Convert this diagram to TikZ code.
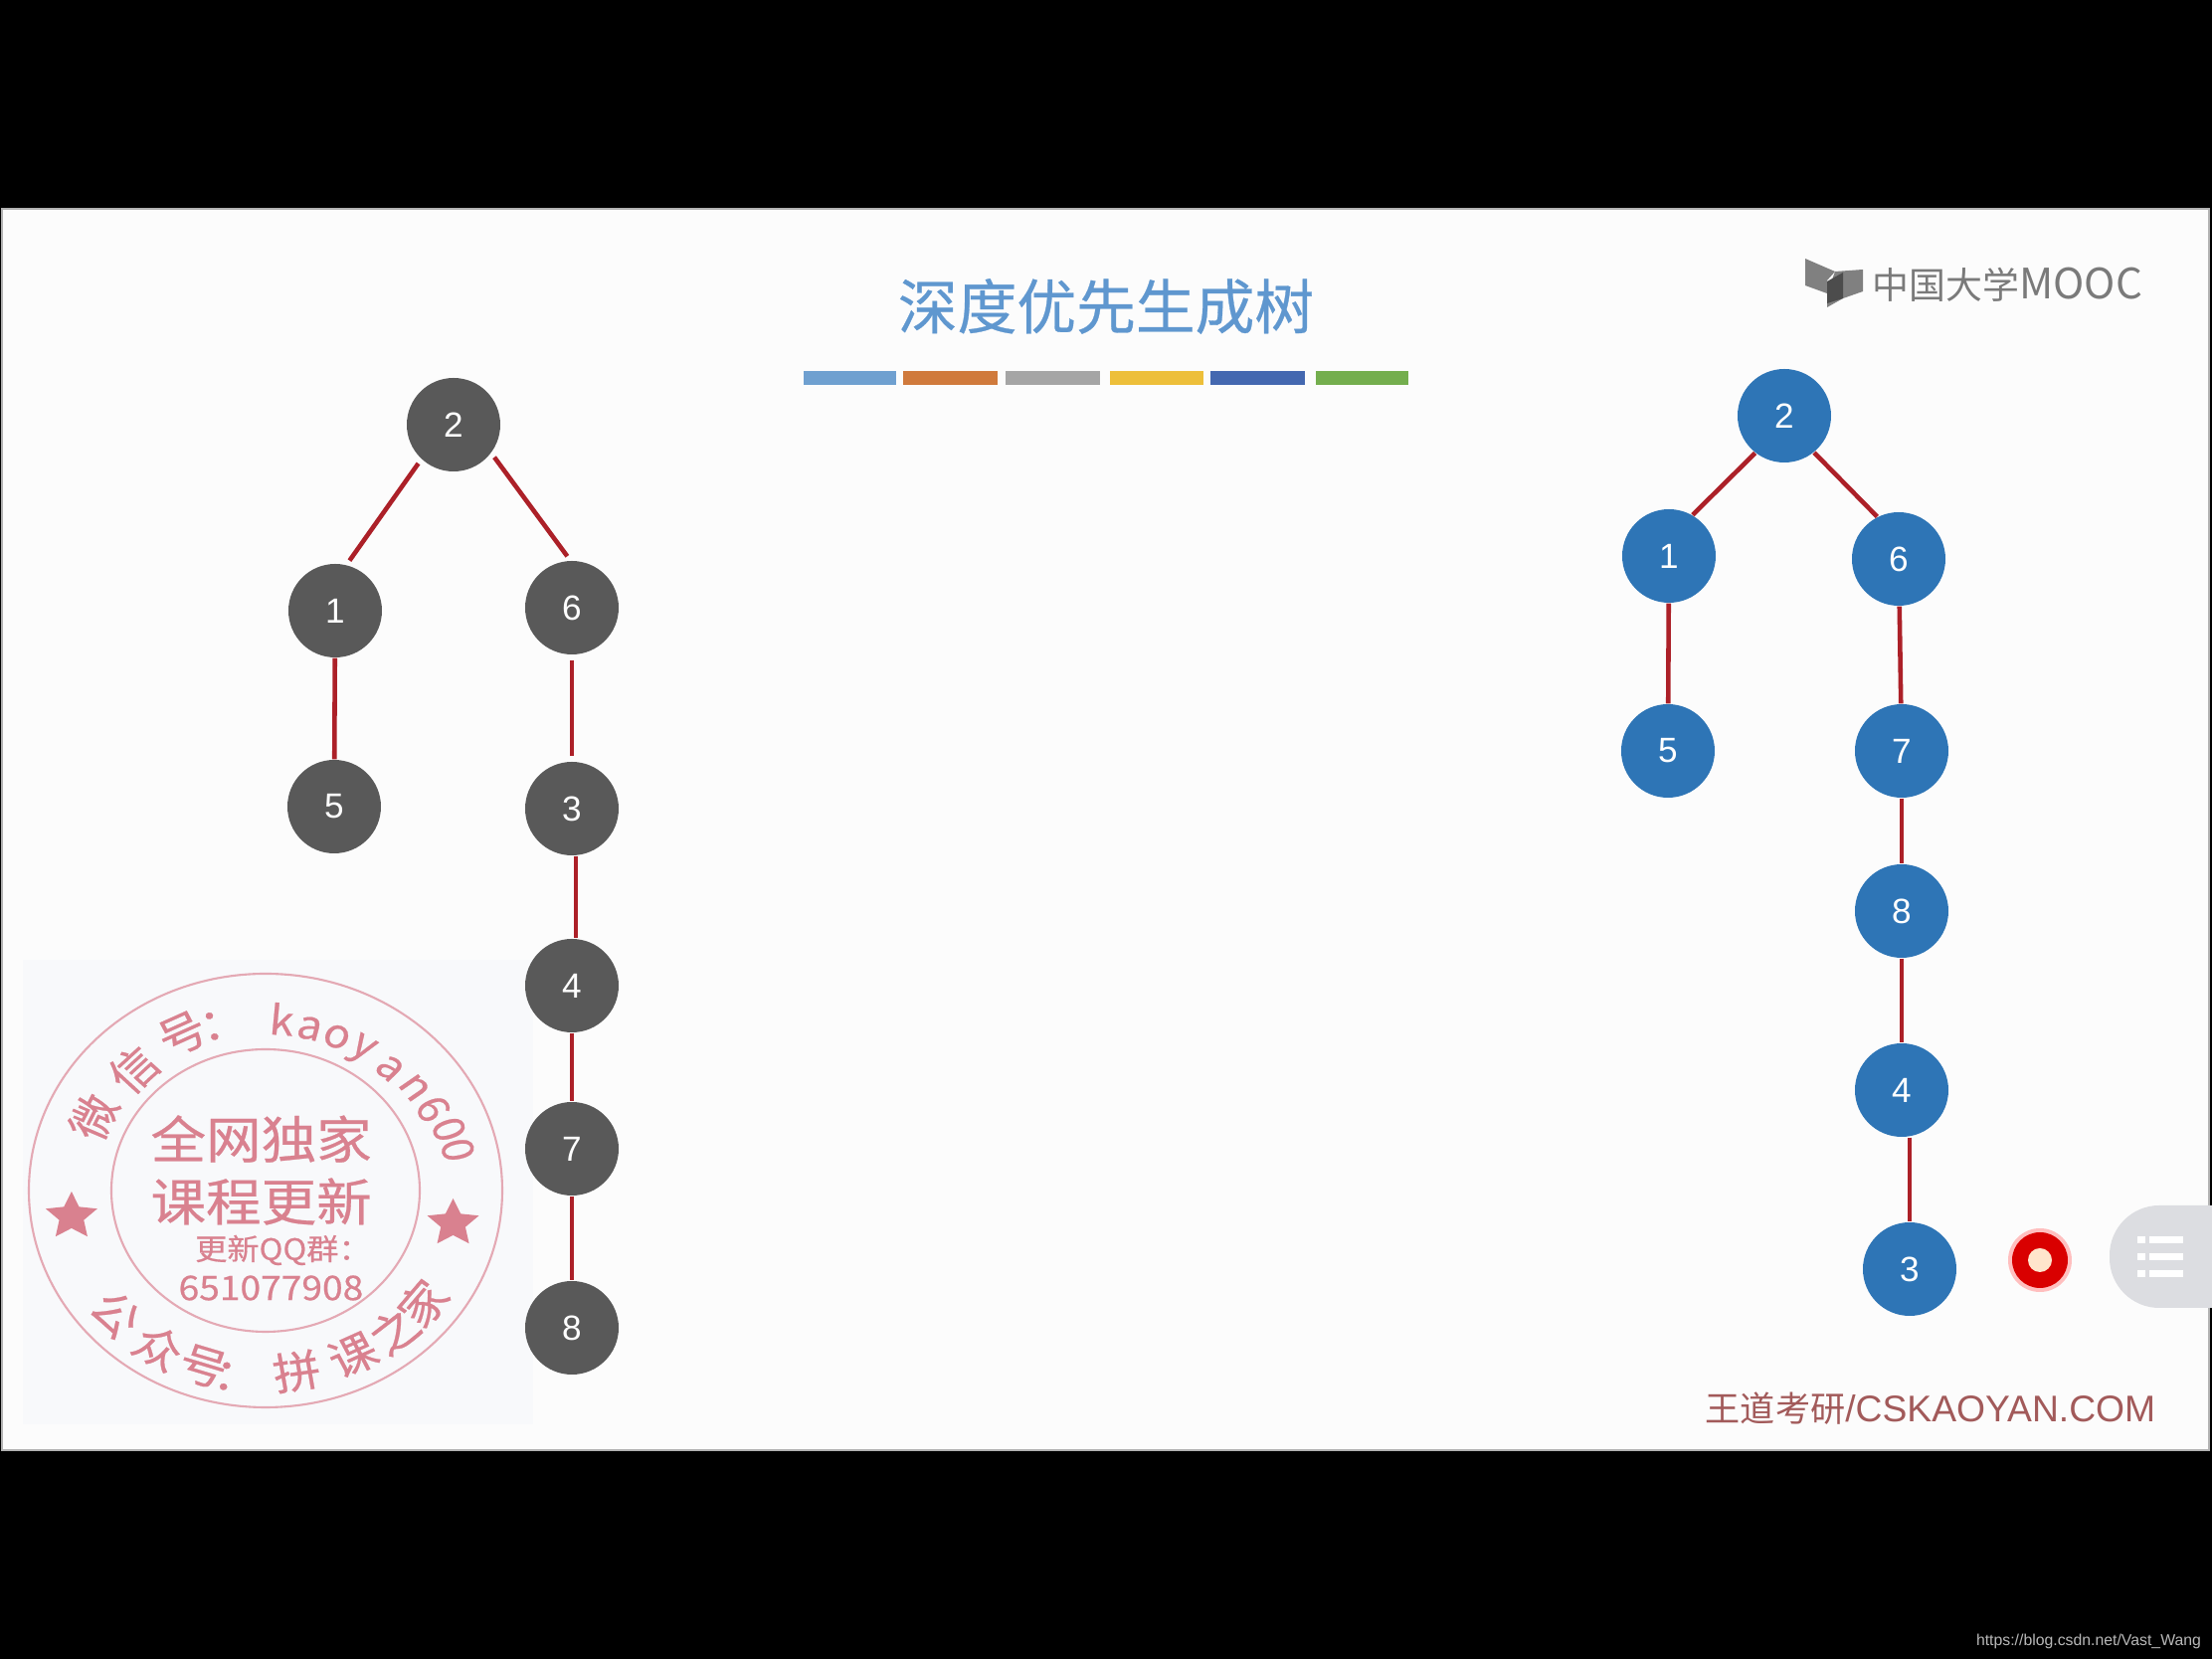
\documentclass[tikz,border=0pt]{standalone}
\usepackage{fontspec}
\setmainfont{Liberation Sans}
\newfontfamily\cjk{Noto Sans CJK SC}
\newfontfamily\cjkheavy[FakeBold=0.5]{Noto Sans CJK SC}
\usetikzlibrary{shapes.geometric}
\definecolor{darknode}{HTML}{595959}
\definecolor{bluenode}{HTML}{2E75B6}
\definecolor{edgered}{HTML}{AC2028}
\definecolor{titleblue}{HTML}{5F97CF}
\definecolor{stampline}{HTML}{E4A9B4}
\definecolor{stampink}{HTML}{D9818F}
\definecolor{logogray}{HTML}{7A7A7A}
\definecolor{footred}{HTML}{A25A5A}
\definecolor{tabgray}{HTML}{DCDDE1}
\tikzset{
  graynode/.style={circle,fill=darknode,text=white,minimum size=0.94cm,inner sep=0pt,font=\fontsize{10}{12}\selectfont},
  bluetree/.style={circle,fill=bluenode,text=white,minimum size=0.94cm,inner sep=0pt,font=\fontsize{10}{12}\selectfont},
  treeedge/.style={draw=edgered,line width=1.3pt},
  gapedge/.style={treeedge,shorten <=0.05cm,shorten >=0.05cm},
  bar/.style={inner sep=0pt,minimum height=0.14cm},
  arcchar/.style={text=stampink,inner sep=0pt,font=\cjkheavy\fontsize{12.5}{14}\selectfont},
  arcletter/.style={text=stampink,inner sep=0pt,font=\cjkheavy\fontsize{11.5}{12}\selectfont},
  stampstar/.style={star,star points=5,star point ratio=2.1,fill=stampink,inner sep=0pt,minimum size=0.5cm},
  stampmid/.style={text=stampink,inner sep=0pt,font=\cjkheavy\fontsize{14.5}{16}\selectfont},
  listbar/.style={fill=white,inner sep=0pt,minimum height=0.07cm}
}
\begin{document}
\begin{tikzpicture}
\useasboundingbox (0,0) rectangle (22.24,16.68);
\fill[black] (0,0) rectangle (22.24,16.68);
\fill[fill=white!99!black,draw=gray!60,line width=0.8pt] (0.02,2.1) rectangle (22.21,14.58);
\definecolor{stampback}{HTML}{F8F9FB}
\fill[stampback] (0.23,2.36) rectangle (5.36,7.03);

\node[text=titleblue,font=\cjkheavy\fontsize{17}{20}\selectfont] (title) at (11.12,13.6) {深度优先生成树};
\node[bar,fill={rgb,255:red,111;green,160;blue,208},minimum width=0.93cm] (b1) at (8.545,12.88) {};
\node[bar,fill={rgb,255:red,208;green,122;blue,60},minimum width=0.95cm] (b2) at (9.555,12.88) {};
\node[bar,fill={rgb,255:red,165;green,165;blue,165},minimum width=0.95cm] (b3) at (10.585,12.88) {};
\node[bar,fill={rgb,255:red,237;green,191;blue,58},minimum width=0.94cm] (b4) at (11.63,12.88) {};
\node[bar,fill={rgb,255:red,68;green,104;blue,176},minimum width=0.95cm] (b5) at (12.645,12.88) {};
\node[bar,fill={rgb,255:red,116;green,174;blue,78},minimum width=0.93cm] (b6) at (13.695,12.88) {};

\fill[black!50] (18.15,14.08) -- (18.45,13.95) -- (18.37,13.86) -- (18.37,13.73) -- (18.15,13.81) -- cycle;
\fill[black!50] (18.45,13.95) -- (18.73,13.97) -- (18.73,13.75) -- (18.53,13.68) -- (18.37,13.59) -- (18.37,13.73) -- cycle;
\fill[black!70] (18.53,13.94) -- (18.53,13.68) -- (18.37,13.63) -- (18.37,13.85) -- cycle;
\node[text=logogray,font=\cjk\fontsize{10.5}{12}\selectfont,anchor=west,inner sep=0pt] (logo) at (18.82,13.82) {中国大学{\fontsize{12}{12}\selectfont MOOC}};

\draw[stampline,line width=0.6pt] (2.67,4.71) ellipse (2.38 and 2.18);
\draw[stampline,line width=0.6pt] (2.67,4.71) ellipse (1.55 and 1.42);
\begin{scope}[shift={(2.67,4.71)},xscale=1.09,transform shape]
\foreach \ch/\ang/\rad [count=\i] in {微/155/1.75,信/135/1.72,号/116/1.75,：/103/1.72}
  \node[arcchar,rotate=\ang-90] (up\i) at (\ang:\rad) {\ch};
\foreach \ch/\ang/\rad [count=\i] in {k/85/1.73,a/76/1.68,o/67/1.68,y/58/1.66,a/47/1.68,n/37/1.72,6/28/1.75,0/20/1.8,0/13/1.82}
  \node[arcletter,rotate=\ang-90] (let\i) at (\ang:\rad) {\ch};
\foreach \ch/\ang/\rad [count=\i] in {公/222/1.86,众/238/1.86,号/252/1.86,：/262/1.9,拼/279/1.84,课/296/1.84,之/310/1.84,家/322/1.84}
  \node[arcchar,rotate=\ang+90] (down\i) at (\ang:\rad) {\ch};
\node[stampstar] (starl) at (-1.79,-0.26) {};
\node[stampstar] (starr) at (1.73,-0.33) {};
\node[stampmid] (linea) at (-0.04,0.52) {全网独家};
\node[stampmid] (lineb) at (-0.04,-0.11) {课程更新};
\node[stampmid,font=\cjkheavy\fontsize{8.4}{10}\selectfont] (linec) at (0.16,-0.6) {更新QQ群：};
\node[stampmid,font=\cjkheavy\fontsize{9.7}{12}\selectfont] (lined) at (0.05,-0.98) {651077908};
\end{scope}

\node[graynode] (l2) at (4.56,12.41) {2};
\node[graynode] (l1) at (3.37,10.54) {1};
\node[graynode] (l6) at (5.75,10.57) {6};
\node[graynode] (l5) at (3.36,8.57) {5};
\node[graynode] (l3) at (5.75,8.55) {3};
\node[graynode] (l4) at (5.75,6.77) {4};
\node[graynode] (l7) at (5.75,5.13) {7};
\node[graynode] (l8) at (5.75,3.33) {8};
\draw[gapedge] (l2.227) -- (l1.76);
\draw[gapedge] (l2.-37) -- (l6.92);
\draw[treeedge] (l1) -- (l5);
\draw[gapedge] (l6) -- (l3);
\draw[treeedge] ([xshift=0.04cm]l3.south) -- ([xshift=0.04cm]l4.north);
\draw[treeedge] (l4) -- (l7);
\draw[treeedge] (l7) -- (l8);

\node[bluetree] (r2) at (17.94,12.5) {2};
\node[bluetree] (r1) at (16.78,11.09) {1};
\node[bluetree] (r6) at (19.09,11.06) {6};
\node[bluetree] (r5) at (16.77,9.13) {5};
\node[bluetree] (r7) at (19.12,9.13) {7};
\node[bluetree] (r8) at (19.12,7.52) {8};
\node[bluetree] (r4) at (19.12,5.72) {4};
\node[bluetree] (r3) at (19.2,3.92) {3};
\draw[treeedge] (r2.232) -- (r1.60);
\draw[treeedge] (r2.-51) -- (r6.117);
\draw[treeedge] (r1) -- (r5);
\draw[treeedge] (r6) -- (r7);
\draw[treeedge] (r7) -- (r8);
\draw[treeedge] (r8) -- (r4);
\draw[treeedge] (r4.south -| r3) -- (r3);

\node[circle,fill=red!25!white,minimum size=0.64cm,inner sep=0pt] (dotglow) at (20.51,4.01) {};
\node[circle,fill=red!85!black,minimum size=0.56cm,inner sep=0pt] (dot) at (20.51,4.01) {};
\node[circle,fill=orange!20!white,minimum size=0.24cm,inner sep=0pt] (dotmid) at (20.51,4.01) {};

\begin{scope}
\clip (21,3) rectangle (22.24,5);
\fill[tabgray,rounded corners=0.5cm] (21.21,3.53) rectangle (22.8,4.56);
\end{scope}
\foreach \y [count=\i] in {4.21,4.04,3.87}{
  \node[listbar,minimum width=0.08cm] (dotl\i) at (21.53,\y) {};
  \node[listbar,minimum width=0.34cm] (barl\i) at (21.78,\y) {};
}

\node[text=footred,font=\fontsize{10.6}{12}\selectfont,inner sep=0pt] (foot) at (19.41,2.52) {{\cjk\fontsize{10}{12}\selectfont 王道考研}/CSKAOYAN.COM};
\node[text=black!28,font=\fontsize{4.5}{6}\selectfont,inner sep=0pt] (url) at (21.0,0.18) {https://blog.csdn.net/Vast\_Wang};
\end{tikzpicture}
\end{document}
